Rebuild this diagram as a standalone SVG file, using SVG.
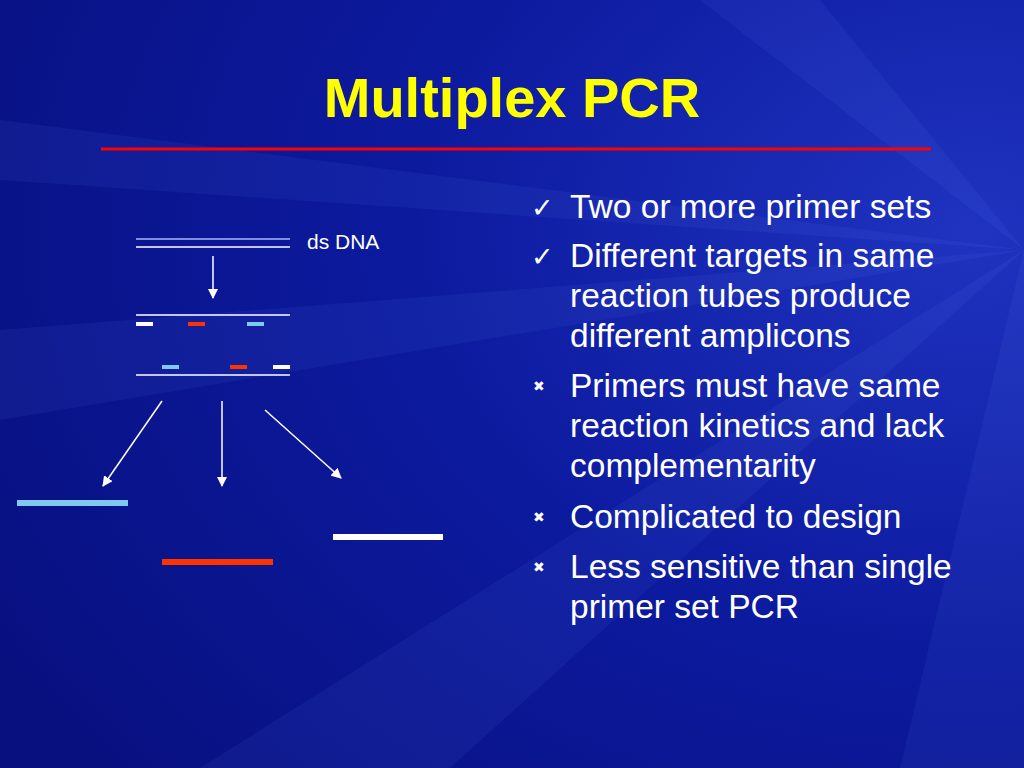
<svg xmlns="http://www.w3.org/2000/svg" width="1024" height="768" viewBox="0 0 1024 768">
<defs>
<radialGradient id="bg" cx="0.95" cy="0.3" r="1.1">
<stop offset="0" stop-color="#1f33c0"/><stop offset="0.5" stop-color="#0c1a9e"/><stop offset="1" stop-color="#081080"/>
</radialGradient>
<marker id="ah" viewBox="0 0 10 10" refX="9" refY="5" markerWidth="7" markerHeight="7" orient="auto"><path d="M0,0L10,5L0,10z" fill="#fff"/></marker>
<style>
.t{font-family:"Liberation Sans",Arial,sans-serif;fill:#fff;font-size:33.5px}
.k{font-family:"DejaVu Sans",sans-serif;fill:#fff;font-size:27px}
.x{font-family:"DejaVu Sans",sans-serif;fill:#fff;font-size:14px}
.c{stroke:#fff;stroke-width:1.5;fill:none}
.b{stroke-width:4}
</style>
</defs>
<rect width="1024" height="768" fill="url(#bg)"/>
<g opacity="0.08" fill="#6b8cff">
<polygon points="1024,250 0,120 0,180"/><polygon points="1024,250 0,330 0,420"/><polygon points="1024,250 200,768 450,768"/><polygon points="1024,250 700,0 820,0"/><polygon points="1024,250 1024,768 900,768"/>
</g>
<text x="512" y="117" text-anchor="middle" font-family="Liberation Sans,Arial,sans-serif" font-weight="bold" font-size="56" fill="#ffff00">Multiplex PCR</text>
<line x1="101" y1="149" x2="931" y2="149" stroke="#ff0000" stroke-width="3"/>
<g id="dna">
<line x1="136" y1="239" x2="290" y2="239" stroke="#a8b4ff" stroke-width="1.5"/>
<line x1="136" y1="247" x2="290" y2="247" stroke="#fff" stroke-width="1.5"/>
<text x="307" y="249" font-family="Liberation Sans,Arial,sans-serif" font-size="21" fill="#fff">ds DNA</text>
</g>
<g id="strands">
<line x1="136" y1="315" x2="290" y2="315" class="c"/>
<line x1="136" y1="375" x2="290" y2="375" class="c"/>
<line x1="136" y1="324" x2="153" y2="324" stroke="#fff" class="b"/>
<line x1="188" y1="324" x2="205" y2="324" stroke="#ff3300" class="b"/>
<line x1="247" y1="324" x2="264" y2="324" stroke="#80c8f0" class="b"/>
<line x1="162" y1="367" x2="179" y2="367" stroke="#80c8f0" class="b"/>
<line x1="230" y1="367" x2="247" y2="367" stroke="#ff3300" class="b"/>
<line x1="273" y1="367" x2="290" y2="367" stroke="#fff" class="b"/>
</g>
<g id="products">
<line x1="17" y1="503" x2="128" y2="503" stroke="#80c8f0" stroke-width="6"/>
<line x1="162" y1="562" x2="273" y2="562" stroke="#ff3300" stroke-width="6"/>
<line x1="333" y1="537" x2="443" y2="537" stroke="#fff" stroke-width="6"/>
</g>
<g id="connectors">
<line x1="213" y1="256" x2="213" y2="298" class="c" marker-end="url(#ah)"/>
<line x1="162" y1="401" x2="103" y2="486" class="c" marker-end="url(#ah)"/>
<line x1="222" y1="401" x2="222" y2="486" class="c" marker-end="url(#ah)"/>
<line x1="265" y1="410" x2="341" y2="478" class="c" marker-end="url(#ah)"/>
</g>
<g id="bullets">
<text x="531" y="217" class="k">✓</text>
<text x="570" y="218" class="t">Two or more primer sets</text>
<text x="531" y="266" class="k">✓</text>
<text x="570" y="267" class="t">Different targets in same</text>
<text x="570" y="307" class="t">reaction tubes produce</text>
<text x="570" y="347" class="t">different amplicons</text>
<text x="533" y="391" class="x">✖</text>
<text x="570" y="397" class="t">Primers must have same</text>
<text x="570" y="437" class="t">reaction kinetics and lack</text>
<text x="570" y="477" class="t">complementarity</text>
<text x="533" y="522" class="x">✖</text>
<text x="570" y="528" class="t">Complicated to design</text>
<text x="533" y="572" class="x">✖</text>
<text x="570" y="578" class="t">Less sensitive than single</text>
<text x="570" y="618" class="t">primer set PCR</text>
</g>
</svg>
